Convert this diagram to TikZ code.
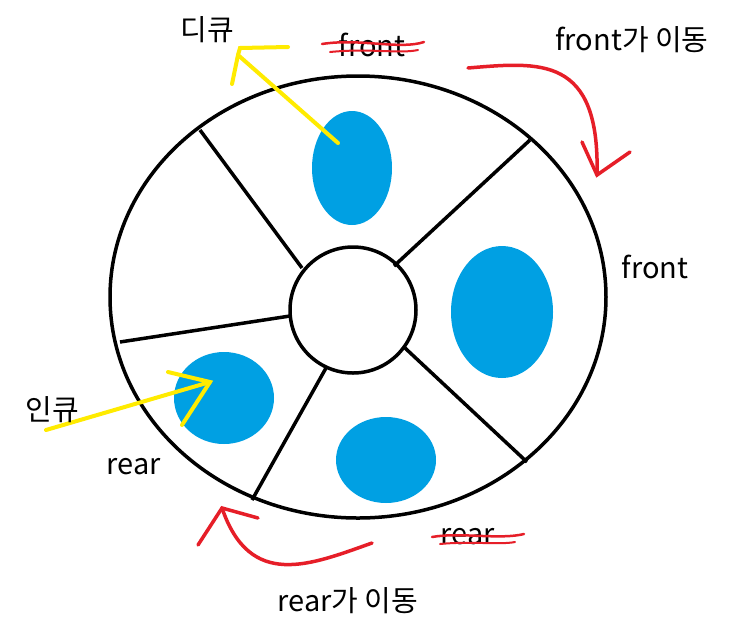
\documentclass[tikz,border=0pt]{standalone}
\usepackage{fontspec}
\usetikzlibrary{shapes.geometric}
\setmainfont{Noto Sans CJK KR}
\definecolor{qblue}{RGB}{0,160,227}
\definecolor{qred}{RGB}{230,30,40}
\definecolor{qyel}{RGB}{255,235,0}
\tikzset{ring/.style={line width=3.5pt,black},
 blob/.style={fill=qblue,draw=none},
 lbl/.style={font=\fontsize{29}{31}\selectfont,inner sep=0pt},
 ya/.style={line width=4pt,qyel,line cap=round},
 ra/.style={line width=3.5pt,qred,line cap=round}}
\begin{document}
\begin{tikzpicture}[x=1pt,y=-1pt]
\useasboundingbox (0,0) rectangle (750,633);
\fill[white] (0,0) rectangle (750,633);
\draw[ring] (358,297) ellipse (248 and 221);
\node[ring,draw,circle,minimum size=126pt,inner sep=0pt] (inner) at (353,310) {};
\draw[ring] (302,268) -- (200,130);
\draw[ring] (290,316) -- (120,342);
\draw[ring] (326,368) -- (252,500);
\draw[ring] (405,348) -- (527,462);
\draw[ring] (394,266) -- (530,140);
\fill[blob] (352,168) ellipse (40 and 57);
\fill[blob] (502,312) ellipse (51 and 66);
\fill[blob] (224,398) ellipse (50 and 46);
\fill[blob] (386,460) ellipse (50 and 43);
% dequeue arrow
\coordinate (dqs) at (338,143); \coordinate (dqe) at (238,55);
\draw[ya] (dqs) -- (dqe);
\draw[ya] (232,84) -- (dqe) -- (240,48) -- (288,47);
% enqueue arrow
\coordinate (eqs) at (46,430); \coordinate (eqe) at (210,382);
\draw[ya] (eqs) -- (eqe);
\draw[ya] (168,372) -- (eqe) -- (182,425);
% labels
\node[lbl] (deq) at (207,30) {디큐};
\node[lbl] (f1) at (372,45) {front};
\draw[ra,line width=2.5pt] (322,44) .. controls (360,38) and (400,50) .. (424,42);
\draw[ra,line width=2pt] (330,52) .. controls (370,48) and (400,54) .. (418,50);
\node[lbl] (fm) at (632,40) {front가 이동};
\node[lbl] (f2) at (655,267) {front};
\node[lbl] (enq) at (52,410) {인큐};
\node[lbl] (r1) at (134,467) {rear};
\node[lbl] (r2) at (468,537) {rear};
\draw[ra,line width=2.5pt] (432,537) .. controls (460,532) and (500,540) .. (524,534);
\draw[ra,line width=2pt] (440,544) .. controls (470,541) and (500,545) .. (515,542);
\node[lbl] (rm) at (348,601) {rear가 이동};
% red moving arrows
\coordinate (fa) at (468,68); \coordinate (fb) at (597,175);
\draw[ra] (fa) .. controls (540,62) and (600,55) .. (fb);
\draw[ra] (582,142) -- (fb) -- (630,152);
\coordinate (ra1) at (372,543); \coordinate (rb) at (222,508);
\draw[ra] (ra1) .. controls (310,565) and (250,590) .. (rb);
\draw[ra] (198,545) -- (rb) -- (258,518);
\end{tikzpicture}
\end{document}
